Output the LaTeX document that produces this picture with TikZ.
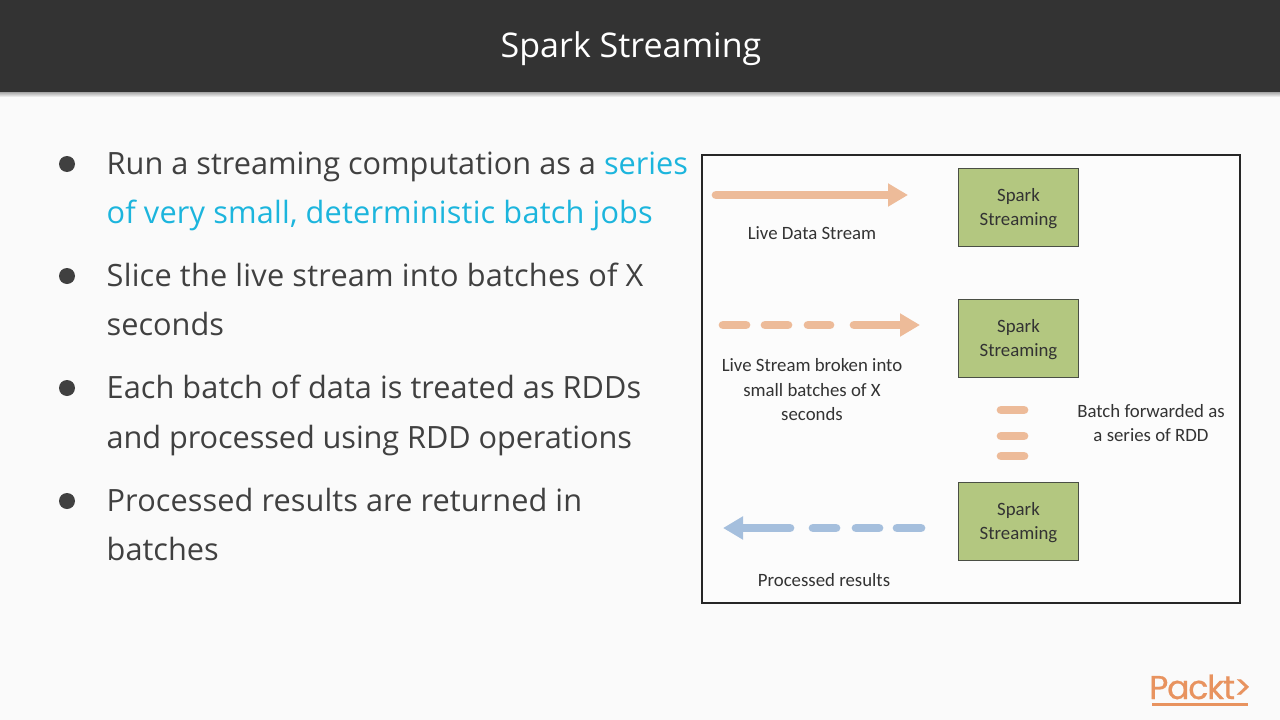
\documentclass[tikz,border=0pt]{standalone}
\usepackage{fontspec}
\setmainfont{Open Sans}
\newfontfamily\diagfont{Carlito}
\newfontfamily\logofont[FakeBold=0.7,LetterSpace=-3.5]{Poppins}
\usetikzlibrary{arrows.meta,shadings}
\definecolor{pagebg}{HTML}{FAFAFA}
\definecolor{headbg}{HTML}{333333}
\definecolor{bodytxt}{HTML}{404040}
\definecolor{hilite}{HTML}{1CB5DD}
\definecolor{boxgreen}{HTML}{B3C780}
\definecolor{boxline}{HTML}{4A4F45}
\definecolor{orangeline}{HTML}{EDBB99}
\definecolor{blueline}{HTML}{A5BFDD}
\definecolor{logoorange}{HTML}{E8935F}
\newcommand{\tracked}[2]{\addfontfeature{LetterSpace=#1}#2}
\newcommand{\boxlift}{\rule{0pt}{15pt}}
\tikzset{
  bodyline/.style={anchor=base west,inner sep=0pt,text=bodytxt,font=\fontsize{30.7}{30.7}\selectfont},
  bulletdot/.style={circle,fill=bodytxt,minimum size=16pt,inner sep=0pt},
  sparkbox/.style={draw=boxline,line width=1.1pt,fill=boxgreen,minimum width=120.5pt,minimum height=78.5pt,inner sep=0pt,align=center,text=black!80,font=\diagfont\fontsize{18.8}{24}\selectfont},
  caption/.style={inner sep=0pt,align=center,text=black!80,font=\diagfont\fontsize{18.8}{24.5}\selectfont},
  orangeflow/.style={draw=orangeline,line width=8.7pt,line cap=round},
  blueflow/.style={draw=blueline,line width=8.7pt,line cap=round},
  flowhead/.style={-{Triangle[length=20pt,width=22pt]}}
}
\begin{document}
\begin{tikzpicture}[x=1pt,y=-1pt]
\useasboundingbox (0,0) rectangle (1280,720);
\fill[pagebg] (0,0) rectangle (1280,720);
\shade[top color=black!35,bottom color=pagebg] (0,92) rectangle (1280,97);
\fill[headbg] (0,0) rectangle (1280,92);
\node[text=white,font=\fontsize{34}{34}\selectfont,inner sep=0pt,anchor=base] (title) at (631,57) {Spark Streaming};

\node[bulletdot] (b1) at (67,164) {};
\node[bulletdot] (b2) at (67,276) {};
\node[bulletdot] (b3) at (67,388) {};
\node[bulletdot] (b4) at (67,501) {};
\node[bodyline] (l1) at (106.5,174) {Run a streaming computation as a \textcolor{hilite}{series}};
\node[bodyline,text=hilite] (l2) at (106.5,223) {\tracked{0.6}{of very small, deterministic batch jobs}};
\node[bodyline] (l3) at (106.5,286) {\tracked{0.7}{Slice the live stream into batches of X}};
\node[bodyline] (l4) at (106.5,335) {seconds};
\node[bodyline] (l5) at (106.5,398) {\tracked{0.2}{Each batch of data is treated as RDDs}};
\node[bodyline] (l6) at (106.5,448) {\tracked{-0.3}{and processed using RDD operations}};
\node[bodyline] (l7) at (106.5,511) {\tracked{0.3}{Processed results are returned in}};
\node[bodyline] (l8) at (106.5,560) {batches};

\draw[black!85,line width=2pt,fill=white!50!pagebg] (702,155) rectangle (1240,603);
\node[sparkbox] (s1) at (1018.5,207.5) {\boxlift Spark\\Streaming};
\node[sparkbox] (s2) at (1018.5,338.5) {\boxlift Spark\\Streaming};
\node[sparkbox] (s3) at (1018.5,521.5) {\boxlift Spark\\Streaming};

\node[caption] (c1) at (812,233) {Live Data Stream};
\node[caption] (c2) at (812,390) {Live Stream broken into\\small batches of X\\seconds};
\node[caption] (c3) at (1151,423) {Batch forwarded as\\a series of RDD};
\node[caption] (c4) at (824,580) {Processed results};

\coordinate (a1s) at (716,195);
\coordinate (a1e) at (908,195);
\draw[orangeflow,flowhead] (a1s) -- (a1e);

\coordinate (d1s) at (723,325); \coordinate (d1e) at (746,325);
\coordinate (d2s) at (765,325); \coordinate (d2e) at (788,325);
\coordinate (d3s) at (808,325); \coordinate (d3e) at (830,325);
\coordinate (a2s) at (854,325); \coordinate (a2e) at (920,325);
\draw[orangeflow] (d1s) -- (d1e);
\draw[orangeflow] (d2s) -- (d2e);
\draw[orangeflow] (d3s) -- (d3e);
\draw[orangeflow,flowhead] (a2s) -- (a2e);

\coordinate (v1s) at (1001,410); \coordinate (v1e) at (1024,410);
\coordinate (v2s) at (1001,436); \coordinate (v2e) at (1024,436);
\coordinate (v3s) at (1001,456); \coordinate (v3e) at (1024,456);
\draw[orangeflow] (v1s) -- (v1e);
\draw[orangeflow] (v2s) -- (v2e);
\draw[orangeflow] (v3s) -- (v3e);

\coordinate (r1s) at (921,528); \coordinate (r1e) at (897,528);
\coordinate (r2s) at (879,528); \coordinate (r2e) at (856,528);
\coordinate (r3s) at (836,528); \coordinate (r3e) at (813,528);
\coordinate (r4s) at (790,528); \coordinate (r4e) at (723,528);
\draw[blueflow] (r1s) -- (r1e);
\draw[blueflow] (r2s) -- (r2e);
\draw[blueflow] (r3s) -- (r3e);
\draw[blueflow,flowhead] (r4s) -- (r4e);

\node[anchor=base west,inner sep=0pt,text=logoorange,font=\logofont\fontsize{33}{33}\selectfont] (logo) at (1149,699) {Packt>};
\coordinate (u1) at (1152,704.5);
\coordinate (u2) at (1248,704.5);
\draw[logoorange,line width=2.5pt] (u1) -- (u2);
\end{tikzpicture}
\end{document}
